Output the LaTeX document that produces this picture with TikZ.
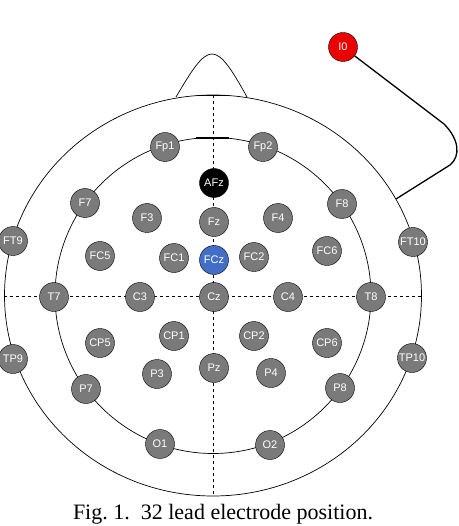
\documentclass[tikz,border=0pt]{standalone}
\usepackage{fontspec}
\setmainfont{Liberation Serif}
\setsansfont{Liberation Sans}
\definecolor{elecgray}{RGB}{122,122,122}
\definecolor{elecblue}{RGB}{66,110,200}
\definecolor{elecred}{RGB}{235,0,0}
\tikzset{
  elec/.style={circle, draw=black, fill=elecgray, text=white, inner sep=0pt,
    minimum size=29pt, font=\sffamily\fontsize{11}{12}\selectfont},
  head/.style={line width=0.7pt},
  mid/.style={dashed, dash pattern=on 3pt off 3pt, line width=0.7pt}
}
\begin{document}
\begin{tikzpicture}[x=1pt, y=-1pt]

    \useasboundingbox (0,0) rectangle (458,526);

    \coordinate (top) at (213, 95);
    \coordinate (bottom) at (213, 496);
    \coordinate (left) at (4, 296);
    \coordinate (right) at (421, 296);
    \coordinate (ear) at (396, 199);

    \draw [head] (213, 295.5) ellipse [x radius=208.5pt, y radius=200.5pt];
    \draw [head] (213, 295.5) circle [radius=158pt];
    \draw [head] (176, 97) .. controls (192, 70) and (202, 54) .. (212, 54)
                          .. controls (222, 54) and (232, 70) .. (247, 97);
    \draw [line width=1.8pt] (200, 95.5) -- (227, 95.5);
    \draw [line width=1.8pt] (196, 138) -- (229, 138);

    \draw [mid] (top) -- (bottom);
    \draw [mid] (left) -- (right);

    \node [elec, fill=elecred] (I0) at (343, 47) {I0};
    \node [elec] (Fp1) at (165, 147) {Fp1};
    \node [elec] (Fp2) at (263, 147) {Fp2};
    \node [elec, fill=black] (AFz) at (214, 183) {AFz};
    \node [elec] (F7) at (85, 203) {F7};
    \node [elec] (F3) at (147, 218) {F3};
    \node [elec] (Fz) at (214, 222) {Fz};
    \node [elec] (F4) at (278, 218) {F4};
    \node [elec] (F8) at (342, 204) {F8};
    \node [elec] (FT9) at (13, 241) {FT9};
    \node [elec] (FC5) at (100, 256) {FC5};
    \node [elec] (FC1) at (174, 258) {FC1};
    \node [elec, fill=elecblue] (FCz) at (214, 260) {FCz};
    \node [elec] (FC2) at (254, 257) {FC2};
    \node [elec] (FC6) at (327, 251) {FC6};
    \node [elec] (FT10) at (413, 242) {FT10};
    \node [elec] (T7) at (54, 297) {T7};
    \node [elec] (C3) at (140, 297) {C3};
    \node [elec] (Cz) at (214, 297) {Cz};
    \node [elec] (C4) at (288, 297) {C4};
    \node [elec] (T8) at (371, 297) {T8};
    \node [elec] (CP5) at (100, 343) {CP5};
    \node [elec] (CP1) at (174, 336) {CP1};
    \node [elec] (CP2) at (254, 336) {CP2};
    \node [elec] (CP6) at (327, 343) {CP6};
    \node [elec] (TP9) at (13, 359) {TP9};
    \node [elec] (TP10) at (412, 358) {TP10};
    \node [elec] (P3) at (157, 374) {P3};
    \node [elec] (Pz) at (214, 368) {Pz};
    \node [elec] (P4) at (271, 373) {P4};
    \node [elec] (P7) at (86, 389) {P7};
    \node [elec] (P8) at (340, 388) {P8};
    \node [elec] (O1) at (160, 444) {O1};
    \node [elec] (O2) at (270, 445) {O2};

    \draw [line width=1.3pt] (I0) -- (444, 124) .. controls (459, 139) and (461, 156) .. (450, 165) -- (ear);

    \node [anchor=base, font=\fontsize{22}{24}\selectfont] (caption) at (223, 519)
      {Fig.~1.\ \ 32 lead electrode position.};

\end{tikzpicture}
\end{document}
